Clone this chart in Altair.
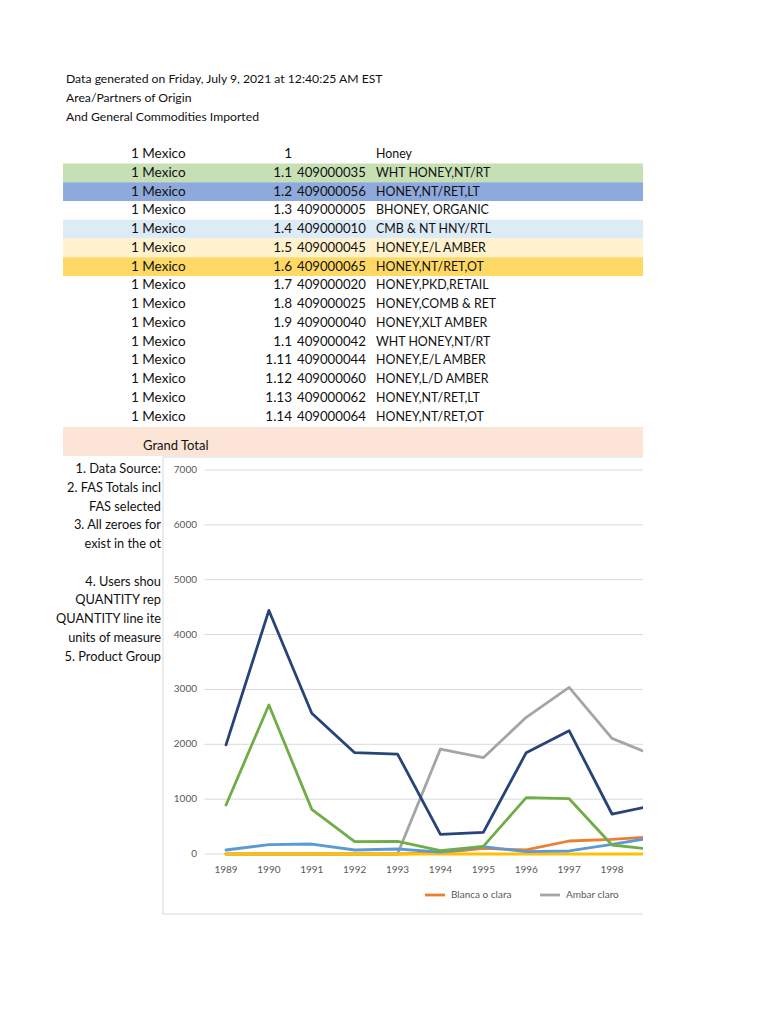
import altair as alt
import pandas as pd

# ---------------- data ----------------
header_lines = [
    "Data generated on Friday, July 9, 2021 at 12:40:25 AM EST",
    "Area/Partners of Origin",
    "And General  Commodities Imported",
]
partners = ["1 Mexico"] * 15
line_nums = ["1", "1.1", "1.2", "1.3", "1.4", "1.5", "1.6", "1.7", "1.8", "1.9",
             "1.1", "1.11", "1.12", "1.13", "1.14"]
hs_codes = ["", "409000035", "409000056", "409000005", "409000010", "409000045",
            "409000065", "409000020", "409000025", "409000040", "409000042",
            "409000044", "409000060", "409000062", "409000064"]
descriptions = ["Honey", "WHT HONEY,NT/RT", "HONEY,NT/RET,LT", "BHONEY, ORGANIC",
                "CMB & NT HNY/RTL", "HONEY,E/L AMBER", "HONEY,NT/RET,OT",
                "HONEY,PKD,RETAIL", "HONEY,COMB & RET", "HONEY,XLT AMBER",
                "WHT HONEY,NT/RT", "HONEY,E/L AMBER", "HONEY,L/D AMBER",
                "HONEY,NT/RET,LT", "HONEY,NT/RET,OT"]
row_fills = ["", "#C6E0B4", "#8EA9DB", "", "#DDEBF7", "#FFF2CC", "#FFD966",
             "", "", "", "", "", "", "", ""]
grand_total = "Grand Total"
notes = ["1. Data Source:", "2. FAS Totals incl", "FAS selected", "3. All zeroes for",
         "exist in the ot", "", "4. Users shou", "QUANTITY rep", "QUANTITY line ite",
         "units of measure", "5. Product Group"]

years = list(range(1989, 2000))
series_names = ["Blanca o clara", "Ambar claro", "Serie 4", "Serie 5", "Serie 6", "Serie 7"]
series_colors = ["#ED7D31", "#A5A5A5", "#FFC000", "#5B9BD5", "#70AD47", "#264478"]
blanca = [0, 0, 0, 0, 0, 20, 103, 73, 237, 268, 318]
ambar = [0, 0, 0, 0, 0, 1914, 1756, 2491, 3038, 2108, 1787]
serie4 = [0, 0, 0, 0, 0, 0, 0, 0, 0, 0, 0]
serie5 = [73, 170, 182, 73, 91, 36, 134, 42, 55, 176, 304]
serie6 = [893, 2716, 814, 225, 230, 61, 140, 1027, 1008, 164, 80]
serie7 = [1990, 4440, 2565, 1847, 1822, 359, 395, 1847, 2248, 729, 890]
series_values = [blanca, ambar, serie4, serie5, serie6, serie7]
y_ticks = [0, 1000, 2000, 3000, 4000, 5000, 6000, 7000]
legend_names = ["Blanca o clara", "Ambar claro"]

# ---------------- tables ----------------
W, H = 635, 1000
FONT = "Lato"

row_scale = alt.Scale(domain=[0, 18], range=[71, 408.5])
x_scale = alt.Scale(domain=[1989, 1998], range=[218, 604])
y_scale = alt.Scale(domain=[0, 7000], range=[846, 462])

hdr = pd.DataFrame({"r": [0, 1, 2], "t": header_lines})
rows = pd.DataFrame({
    "r": list(range(4, 19)),
    "name": partners, "num": line_nums, "code": hs_codes, "desc": descriptions,
    "fill": row_fills,
})
rows["lo"] = rows["r"] - 0.5
rows["hi"] = rows["r"] + 0.5
fills = rows[rows["fill"] != ""]
gt = pd.DataFrame({"lo": [18.56], "hi": [20.1], "r": [19.57], "t": [grand_total], "fill": ["#FCE4D6"]})
nt = pd.DataFrame({"r": [20.8 + i for i in range(len(notes))], "t": notes})
nt = nt[nt["t"] != ""]

def ytxt(field="r"):
    return alt.Y(f"{field}:Q", scale=row_scale, axis=None)

def text_layer(df, field, x, align, fs):
    return alt.Chart(df).mark_text(font=FONT, fontSize=fs, align=align, baseline="middle",
                                   color="#111111").encode(
        x=alt.value(x), y=ytxt(), text=f"{field}:N")

bg = alt.Chart(fills).mark_rect().encode(
    y=alt.Y("lo:Q", scale=row_scale, axis=None), y2="hi:Q",
    x=alt.value(55), x2=alt.value(635),
    color=alt.Color("fill:N", scale=None))
gt_bg = alt.Chart(gt).mark_rect().encode(
    y=alt.Y("lo:Q", scale=row_scale, axis=None), y2="hi:Q",
    x=alt.value(55), x2=alt.value(635),
    color=alt.Color("fill:N", scale=None))

layers = [bg, gt_bg,
          text_layer(hdr, "t", 58, "left", 12.2),
          text_layer(rows, "name", 123, "left", 13.5),
          text_layer(rows, "num", 284, "right", 13.5),
          text_layer(rows, "code", 289, "left", 13.2),
          text_layer(rows, "desc", 368, "left", 12.4),
          text_layer(gt, "t", 135, "left", 13),
          text_layer(nt, "t", 153, "right", 12.8)]

# ---------------- chart box ----------------
box = alt.Chart(pd.DataFrame({"a": [0]})).mark_rect(
    fill="white", stroke="#D9D9D9", strokeWidth=1, clip=True).encode(
    x=alt.value(155), x2=alt.value(700), y=alt.value(449), y2=alt.value(906))
layers.append(box)

grid_df = pd.DataFrame({"v": y_ticks, "x0": 1988.5, "x1": 1999.5})
grid = alt.Chart(grid_df).mark_rule(color="#D9D9D9", strokeWidth=1, clip=True).encode(
    x=alt.X("x0:Q", scale=x_scale, axis=None), x2="x1:Q",
    y=alt.Y("v:Q", scale=y_scale, axis=None))
ylab = alt.Chart(grid_df).mark_text(font=FONT, fontSize=10, align="right", baseline="middle",
                                    color="#595959").encode(
    x=alt.value(189), y=alt.Y("v:Q", scale=y_scale, axis=None), text="v:N")
xlab_df = pd.DataFrame({"yr": years})
xlab = alt.Chart(xlab_df).mark_text(font=FONT, fontSize=10, align="center", baseline="middle",
                                    color="#595959", clip=True).encode(
    x=alt.X("yr:Q", scale=x_scale, axis=None), y=alt.value(862), text="yr:N")
layers += [grid, ylab, xlab]

for name, col, vals in zip(series_names, series_colors, series_values):
    d = pd.DataFrame({"yr": years, "val": vals, "s": name})
    layers.append(alt.Chart(d).mark_line(color=col, strokeWidth=2.8, strokeJoin="round",
                                         strokeCap="round", clip=True).encode(
        x=alt.X("yr:Q", scale=x_scale, axis=None),
        y=alt.Y("val:Q", scale=y_scale, axis=None)))

# ---------------- legend ----------------
leg_x = [417, 532]
for name, lx in zip(legend_names, leg_x):
    col = series_colors[series_names.index(name)]
    d = pd.DataFrame({"t": [name]})
    layers.append(alt.Chart(d).mark_rule(color=col, strokeWidth=2.8).encode(
        x=alt.value(lx), x2=alt.value(lx + 20), y=alt.value(887)))
    layers.append(alt.Chart(d).mark_text(font=FONT, fontSize=10, align="left", baseline="middle",
                                         color="#595959").encode(
        x=alt.value(lx + 26), y=alt.value(887), text="t:N"))

chart = alt.layer(*layers).resolve_scale(x="independent", y="independent", color="independent").properties(
    width=W, height=H, autosize="none", padding=0
).configure_view(stroke=None)

chart.save("out.html", embed_options={"renderer": "svg", "actions": False})
